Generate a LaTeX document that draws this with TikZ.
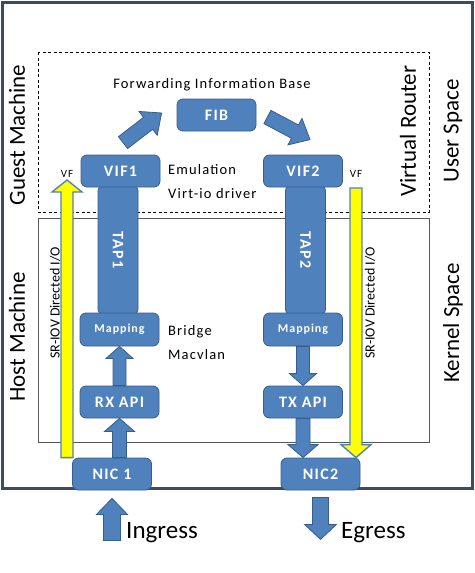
\documentclass[tikz,border=0pt]{standalone}
\usepackage{fontspec}
\setmainfont{Carlito}
\newfontfamily\spaced[LetterSpace=8]{Carlito}
\usetikzlibrary{calc}

\definecolor{boxblue}{RGB}{79,129,189}
\definecolor{boxedge}{RGB}{56,93,138}
\definecolor{framecol}{RGB}{60,75,100}
\definecolor{vfyellow}{RGB}{255,255,0}

% block arrow: [style]{from}{to}{half shaft}{half head}{head length}
\newcommand{\blockarrow}[6][]{%
  \draw[blockarrow,#1] let \p1=(#2), \p2=(#3), \p3=($(#3)!#6!(#2)$) in
    ($(\p1)!#4!90:(\p2)$) -- ($(\p3)!#4!-90:(\p1)$) -- ($(\p3)!#5!-90:(\p1)$)
    -- (\p2) -- ($(\p3)!#5!90:(\p1)$) -- ($(\p3)!#4!90:(\p1)$)
    -- ($(\p1)!#4!-90:(\p2)$) -- cycle;}

\begin{document}
\begin{tikzpicture}[x=1pt,y=-1pt]
			% Define styles for the boxes, arrows and texts
			\tikzstyle{box} = [rectangle, rounded corners=6pt, fill=boxblue, draw=boxedge, line width=0.8pt, text=white, inner sep=0pt, minimum width=79pt, minimum height=32pt, font=\spaced\bfseries\fontsize{16}{18}\selectfont]
			\tikzstyle{mapbox} = [box, minimum height=33pt, font=\spaced\bfseries\fontsize{12}{14}\selectfont]
			\tikzstyle{tapbar} = [box, rotate=-90, minimum width=130pt, minimum height=40pt]
			\tikzstyle{blockarrow} = [fill=boxblue, draw=boxedge, line width=0.8pt]
			\tikzstyle{vfarrow} = [fill=vfyellow, draw=boxblue, line width=1.4pt]
			\tikzstyle{note} = [inner sep=0pt, font=\spaced\fontsize{14.5}{16}\selectfont]
			\tikzstyle{vflabel} = [inner sep=0pt, font=\spaced\fontsize{11}{12}\selectfont]
			\tikzstyle{sriov} = [inner sep=0pt, rotate=90, font=\fontsize{14}{16}\selectfont]
			\tikzstyle{side} = [inner sep=0pt, rotate=90, font=\fontsize{23}{26}\selectfont]
			\tikzstyle{flow} = [inner sep=0pt, anchor=west, font=\fontsize{25}{28}\selectfont]

			\useasboundingbox (0,0) rectangle (474,573);

			% Machine frame and the two spaces
			\draw[framecol, line width=3pt] (2,2) rectangle (472,488);
			\draw[dash pattern=on 3pt off 2.5pt, line width=0.8pt] (38,52) rectangle (429,212);
			\draw[black!65, line width=0.8pt] (38,218) rectangle (429,442);

			% Place the boxes
			\node[tapbar] (TAP1) at (118,250) {TAP1};
			\node[tapbar] (TAP2) at (305.5,250) {TAP2};

			\node[box] (FIB) at (216.5,115) {FIB};
			\node[box] (VIF1) at (120.5,171) {VIF1};
			\node[box] (VIF2) at (303,171) {VIF2};
			\node[mapbox] (MAP1) at (119.5,329.5) {Mapping};
			\node[mapbox] (MAP2) at (303,329.5) {Mapping};
			\node[box] (RX) at (119.5,402) {RX API};
			\node[box] (TX) at (303,402) {TX API};
			\node[box] (NIC1) at (112,474) {NIC 1};
			\node[box] (NIC2) at (320.5,474) {NIC2};

			% Place the texts
			\node[note] (fibname) at (212,85) {Forwarding Information Base};
			\node[note, anchor=west] (emul) at (168,170) {Emulation};
			\node[note, anchor=west] (virtio) at (168,194) {Virt-io driver};
			\node[note, anchor=west] (bridge) at (168,332) {Bridge};
			\node[note, anchor=west] (macvlan) at (168,355) {Macvlan};
			\node[vflabel, anchor=south] (vf1) at (67,178) {VF};
			\node[vflabel, anchor=south] (vf2) at (356,178) {VF};
			\node[sriov] (sr1) at (55,303) {SR-IOV Directed I/O};
			\node[sriov] (sr2) at (370,303) {SR-IOV Directed I/O};

			\node[side] (guest) at (17,135) {Guest Machine};
			\node[side] (host) at (17,337) {Host Machine};
			\node[side] (router) at (408,131) {Virtual Router};
			\node[side] (user) at (453,131) {User Space};
			\node[side] (kernel) at (453,323) {Kernel Space};

			\node[flow] (ingress) at (126,533) {Ingress};
			\node[flow] (egress) at (341,533) {Egress};

			% Draw the arrows of the packet path
			\blockarrow{$(VIF1.north)+(2.5,-12)$}{$(FIB.west)+(-15,-2)$}{7.5pt}{15pt}{17pt}
			\blockarrow{$(FIB.east)+(11,2)$}{$(VIF2.north)+(7,-15)$}{7.5pt}{15pt}{17pt}
			\blockarrow{RX.north}{MAP1.south}{6.5pt}{13.5pt}{12pt}
			\blockarrow{RX.south |- NIC1.north}{RX.south}{7pt}{15pt}{13pt}
			\blockarrow{MAP2.south}{TX.north}{6.5pt}{13.5pt}{12pt}
			\blockarrow{TX.south}{TX.south |- NIC2.north}{7pt}{15pt}{13pt}
			\blockarrow{$(NIC1.south)+(0,50)$}{$(NIC1.south)+(0,8)$}{8.5pt}{15.5pt}{16pt}
			\blockarrow{$(NIC2.south)+(0,7)$}{$(NIC2.south)+(0,49)$}{8pt}{16pt}{15pt}

			% Draw the SR-IOV arrows
			\blockarrow[vfarrow]{vf1.south |- NIC1.north}{$(vf1.south)+(0,2)$}{6pt}{15pt}{12pt}
			\blockarrow[vfarrow]{$(vf2.south)+(0,10)$}{vf2.south |- NIC2.north}{6pt}{15pt}{13pt}

		\end{tikzpicture}
\end{document}
